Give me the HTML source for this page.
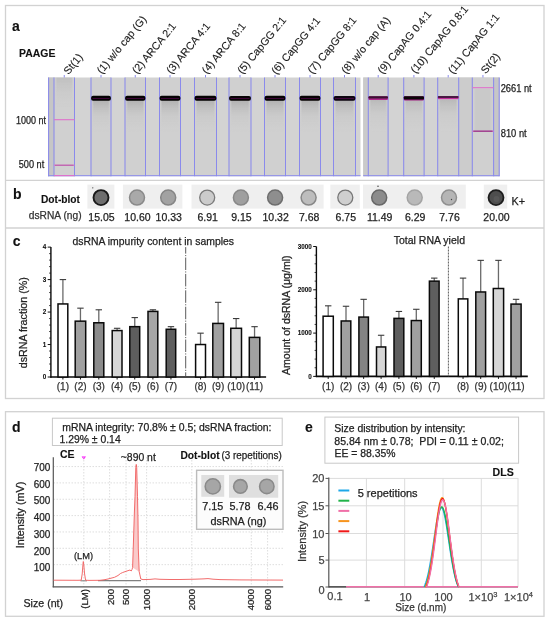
<!DOCTYPE html>
<html><head><meta charset="utf-8"><style>
html,body{margin:0;padding:0;background:#fff;overflow:hidden;width:550px;height:622px;}
svg{display:block;will-change:transform;}
text{font-family:"Liberation Sans",sans-serif;stroke-width:0.25px;}
text[font-weight="bold"]{stroke-width:0.1px;}
</style></head><body>
<svg width="550" height="622" viewBox="0 0 550 622" font-family="Liberation Sans, sans-serif">
<rect width="550" height="622" fill="#fff"/>
<rect x="5.5" y="5.5" width="538.5" height="393" fill="none" stroke="#d2d2d2" stroke-width="1.3"/>
<line x1="5" y1="180.3" x2="544" y2="180.3" stroke="#d2d2d2" stroke-width="1.3"/>
<line x1="5" y1="228" x2="544" y2="228" stroke="#d2d2d2" stroke-width="1.3"/>
<rect x="5.5" y="411.7" width="538.5" height="204.6" fill="none" stroke="#d2d2d2" stroke-width="1.3"/>
<text x="12" y="31.1" font-size="14" font-weight="bold" fill="#111" stroke="#111" text-anchor="start" >a</text>
<text x="19" y="57" font-size="10.4" font-weight="bold" fill="#111" stroke="#111" text-anchor="start" textLength="36.4" lengthAdjust="spacingAndGlyphs" >PAAGE</text>
<defs><linearGradient id="smear" x1="0" y1="0" x2="0" y2="1"><stop offset="0" stop-color="#a4a4a4" stop-opacity="0.7"/><stop offset="0.15" stop-color="#aaaaaa" stop-opacity="0.55"/><stop offset="0.5" stop-color="#b8b8b8" stop-opacity="0.22"/><stop offset="1" stop-color="#c8c8c8" stop-opacity="0"/></linearGradient><linearGradient id="smearh" x1="0" y1="0" x2="1" y2="0"><stop offset="0" stop-color="#fff" stop-opacity="0"/><stop offset="0.12" stop-color="#fff" stop-opacity="1"/><stop offset="0.88" stop-color="#fff" stop-opacity="1"/><stop offset="1" stop-color="#fff" stop-opacity="0"/></linearGradient><mask id="smask" maskContentUnits="objectBoundingBox"><rect width="1" height="1" fill="url(#smearh)"/></mask><linearGradient id="stsmear" x1="0" y1="0" x2="0" y2="1"><stop offset="0" stop-color="#b4b4b4" stop-opacity="0.55"/><stop offset="1" stop-color="#c8c8c8" stop-opacity="0"/></linearGradient></defs>
<rect x="48" y="77.5" width="312.5" height="98.69999999999999" fill="#d3d3d3"/>
<rect x="48" y="77.5" width="6" height="98.69999999999999" fill="#c6c6c6"/>
<rect x="363.2" y="77.5" width="136.3" height="98.69999999999999" fill="#d3d3d3"/>
<rect x="363.2" y="77.5" width="5.1" height="98.69999999999999" fill="#cacaca"/>
<rect x="493.6" y="77.5" width="5.9" height="98.69999999999999" fill="#c6c6c6"/>
<rect x="458.7" y="77.5" width="13.6" height="98.69999999999999" fill="#cccccc"/>
<rect x="54" y="77.5" width="20.5" height="98.69999999999999" fill="#d0d0d0"/>
<rect x="55" y="77.5" width="18.5" height="30" fill="url(#stsmear)" mask="url(#smask)"/>
<rect x="91" y="77.5" width="20" height="98.69999999999999" fill="#d0d0d0"/>
<rect x="91.6" y="100" width="18.8" height="32" fill="url(#smear)" mask="url(#smask)"/>
<rect x="125" y="77.5" width="20.5" height="98.69999999999999" fill="#d0d0d0"/>
<rect x="125.6" y="100" width="19.3" height="32" fill="url(#smear)" mask="url(#smask)"/>
<rect x="159.5" y="77.5" width="21.0" height="98.69999999999999" fill="#d0d0d0"/>
<rect x="160.1" y="100" width="19.8" height="32" fill="url(#smear)" mask="url(#smask)"/>
<rect x="194.5" y="77.5" width="22.0" height="98.69999999999999" fill="#d0d0d0"/>
<rect x="195.1" y="100" width="20.8" height="32" fill="url(#smear)" mask="url(#smask)"/>
<rect x="229" y="77.5" width="22" height="98.69999999999999" fill="#d0d0d0"/>
<rect x="229.6" y="100" width="20.8" height="32" fill="url(#smear)" mask="url(#smask)"/>
<rect x="264.5" y="77.5" width="21.0" height="98.69999999999999" fill="#d0d0d0"/>
<rect x="265.1" y="100" width="19.8" height="32" fill="url(#smear)" mask="url(#smask)"/>
<rect x="299.5" y="77.5" width="21.0" height="98.69999999999999" fill="#d0d0d0"/>
<rect x="300.1" y="100" width="19.8" height="32" fill="url(#smear)" mask="url(#smask)"/>
<rect x="333.5" y="77.5" width="22.0" height="98.69999999999999" fill="#d0d0d0"/>
<rect x="334.1" y="100" width="20.8" height="32" fill="url(#smear)" mask="url(#smask)"/>
<rect x="368.3" y="77.5" width="19.80000000000001" height="98.69999999999999" fill="#d0d0d0"/>
<rect x="368.90000000000003" y="100" width="18.600000000000012" height="32" fill="url(#smear)" mask="url(#smask)" opacity="0.7"/>
<rect x="403.7" y="77.5" width="20.400000000000034" height="98.69999999999999" fill="#d0d0d0"/>
<rect x="404.3" y="100" width="19.200000000000035" height="32" fill="url(#smear)" mask="url(#smask)" opacity="0.7"/>
<rect x="437.7" y="77.5" width="21.0" height="98.69999999999999" fill="#d0d0d0"/>
<rect x="438.3" y="100" width="19.8" height="32" fill="url(#smear)" mask="url(#smask)" opacity="0.7"/>
<rect x="472.3" y="77.5" width="21.30000000000001" height="98.69999999999999" fill="#d0d0d0"/>
<rect x="473.3" y="89" width="19.30000000000001" height="42" fill="#b8b8b8" opacity="0.25" mask="url(#smask)"/>
<line x1="48.6" y1="77.5" x2="48.6" y2="176.2" stroke="#8a8aec" stroke-width="1.05"/>
<line x1="54" y1="77.5" x2="54" y2="176.2" stroke="#8a8aec" stroke-width="1.05"/>
<line x1="74.5" y1="77.5" x2="74.5" y2="176.2" stroke="#8a8aec" stroke-width="1.05"/>
<line x1="91" y1="77.5" x2="91" y2="176.2" stroke="#8a8aec" stroke-width="1.05"/>
<line x1="111" y1="77.5" x2="111" y2="176.2" stroke="#8a8aec" stroke-width="1.05"/>
<line x1="125" y1="77.5" x2="125" y2="176.2" stroke="#8a8aec" stroke-width="1.05"/>
<line x1="145.5" y1="77.5" x2="145.5" y2="176.2" stroke="#8a8aec" stroke-width="1.05"/>
<line x1="159.5" y1="77.5" x2="159.5" y2="176.2" stroke="#8a8aec" stroke-width="1.05"/>
<line x1="180.5" y1="77.5" x2="180.5" y2="176.2" stroke="#8a8aec" stroke-width="1.05"/>
<line x1="194.5" y1="77.5" x2="194.5" y2="176.2" stroke="#8a8aec" stroke-width="1.05"/>
<line x1="216.5" y1="77.5" x2="216.5" y2="176.2" stroke="#8a8aec" stroke-width="1.05"/>
<line x1="229" y1="77.5" x2="229" y2="176.2" stroke="#8a8aec" stroke-width="1.05"/>
<line x1="251" y1="77.5" x2="251" y2="176.2" stroke="#8a8aec" stroke-width="1.05"/>
<line x1="264.5" y1="77.5" x2="264.5" y2="176.2" stroke="#8a8aec" stroke-width="1.05"/>
<line x1="285.5" y1="77.5" x2="285.5" y2="176.2" stroke="#8a8aec" stroke-width="1.05"/>
<line x1="299.5" y1="77.5" x2="299.5" y2="176.2" stroke="#8a8aec" stroke-width="1.05"/>
<line x1="320.5" y1="77.5" x2="320.5" y2="176.2" stroke="#8a8aec" stroke-width="1.05"/>
<line x1="333.5" y1="77.5" x2="333.5" y2="176.2" stroke="#8a8aec" stroke-width="1.05"/>
<line x1="355.5" y1="77.5" x2="355.5" y2="176.2" stroke="#8a8aec" stroke-width="1.05"/>
<line x1="368.3" y1="77.5" x2="368.3" y2="176.2" stroke="#8a8aec" stroke-width="1.05"/>
<line x1="388.1" y1="77.5" x2="388.1" y2="176.2" stroke="#8a8aec" stroke-width="1.05"/>
<line x1="403.7" y1="77.5" x2="403.7" y2="176.2" stroke="#8a8aec" stroke-width="1.05"/>
<line x1="424.1" y1="77.5" x2="424.1" y2="176.2" stroke="#8a8aec" stroke-width="1.05"/>
<line x1="437.7" y1="77.5" x2="437.7" y2="176.2" stroke="#8a8aec" stroke-width="1.05"/>
<line x1="458.7" y1="77.5" x2="458.7" y2="176.2" stroke="#8a8aec" stroke-width="1.05"/>
<line x1="472.3" y1="77.5" x2="472.3" y2="176.2" stroke="#8a8aec" stroke-width="1.05"/>
<line x1="493.6" y1="77.5" x2="493.6" y2="176.2" stroke="#8a8aec" stroke-width="1.05"/>
<line x1="499.2" y1="77.5" x2="499.2" y2="176.2" stroke="#8a8aec" stroke-width="1.05"/>
<line x1="48" y1="175.7" x2="360.5" y2="175.7" stroke="#8a8aec" stroke-width="1"/>
<line x1="363.2" y1="175.7" x2="499.5" y2="175.7" stroke="#8a8aec" stroke-width="1"/>
<line x1="64.25" y1="75" x2="64.25" y2="77.5" stroke="#8a8aec" stroke-width="1"/>
<line x1="101.0" y1="75" x2="101.0" y2="77.5" stroke="#8a8aec" stroke-width="1"/>
<line x1="135.25" y1="75" x2="135.25" y2="77.5" stroke="#8a8aec" stroke-width="1"/>
<line x1="170.0" y1="75" x2="170.0" y2="77.5" stroke="#8a8aec" stroke-width="1"/>
<line x1="205.5" y1="75" x2="205.5" y2="77.5" stroke="#8a8aec" stroke-width="1"/>
<line x1="240.0" y1="75" x2="240.0" y2="77.5" stroke="#8a8aec" stroke-width="1"/>
<line x1="275.0" y1="75" x2="275.0" y2="77.5" stroke="#8a8aec" stroke-width="1"/>
<line x1="310.0" y1="75" x2="310.0" y2="77.5" stroke="#8a8aec" stroke-width="1"/>
<line x1="344.5" y1="75" x2="344.5" y2="77.5" stroke="#8a8aec" stroke-width="1"/>
<line x1="378.20000000000005" y1="75" x2="378.20000000000005" y2="77.5" stroke="#8a8aec" stroke-width="1"/>
<line x1="413.9" y1="75" x2="413.9" y2="77.5" stroke="#8a8aec" stroke-width="1"/>
<line x1="448.2" y1="75" x2="448.2" y2="77.5" stroke="#8a8aec" stroke-width="1"/>
<line x1="482.95000000000005" y1="75" x2="482.95000000000005" y2="77.5" stroke="#8a8aec" stroke-width="1"/>
<rect x="91.1" y="95.8" width="19.8" height="5.0" rx="2.0" fill="#050303"/>
<line x1="92.5" y1="98.5" x2="109.5" y2="98.5" stroke="#900a80" stroke-width="0.5" opacity="0.8"/>
<rect x="125.1" y="95.8" width="20.3" height="5.0" rx="2.0" fill="#050303"/>
<line x1="126.5" y1="98.5" x2="144.0" y2="98.5" stroke="#900a80" stroke-width="0.5" opacity="0.8"/>
<rect x="159.6" y="95.8" width="20.8" height="5.0" rx="2.0" fill="#050303"/>
<line x1="161.0" y1="98.5" x2="179.0" y2="98.5" stroke="#900a80" stroke-width="0.5" opacity="0.8"/>
<rect x="194.6" y="95.8" width="21.8" height="5.0" rx="2.0" fill="#050303"/>
<line x1="196.0" y1="98.5" x2="215.0" y2="98.5" stroke="#900a80" stroke-width="0.5" opacity="0.8"/>
<rect x="229.1" y="95.89999999999999" width="21.8" height="4.8" rx="1.92" fill="#080404"/>
<line x1="230.5" y1="98.5" x2="249.5" y2="98.5" stroke="#900a80" stroke-width="0.5" opacity="0.8"/>
<rect x="264.6" y="95.8" width="20.8" height="5.0" rx="2.0" fill="#050303"/>
<line x1="266.0" y1="98.5" x2="284.0" y2="98.5" stroke="#900a80" stroke-width="0.5" opacity="0.8"/>
<rect x="299.6" y="95.85" width="20.8" height="4.9" rx="1.9600000000000002" fill="#080404"/>
<line x1="301.0" y1="98.5" x2="319.0" y2="98.5" stroke="#900a80" stroke-width="0.5" opacity="0.8"/>
<rect x="333.6" y="95.89999999999999" width="21.8" height="4.8" rx="1.92" fill="#0e0610"/>
<line x1="335.0" y1="98.5" x2="354.0" y2="98.5" stroke="#900a80" stroke-width="0.5" opacity="0.8"/>
<rect x="368.40000000000003" y="96.3" width="19.600000000000012" height="3.6000000000000085" rx="1.2" fill="#b02a8c"/>
<rect x="368.40000000000003" y="96.3" width="19.600000000000012" height="2.3000000000000056" rx="1" fill="#3a1232"/>
<rect x="403.8" y="96.3" width="20.200000000000035" height="4.200000000000003" rx="1.2" fill="#a01e80"/>
<rect x="403.8" y="96.3" width="20.200000000000035" height="3.1000000000000028" rx="1" fill="#0c0508"/>
<rect x="437.8" y="95.9" width="20.8" height="3.299999999999997" rx="1.2" fill="#c0309a"/>
<rect x="437.8" y="95.9" width="20.8" height="1.9999999999999942" rx="1" fill="#4a1a44"/>
<line x1="54" y1="119.7" x2="74.5" y2="119.7" stroke="#e070cc" stroke-width="1.1"/>
<line x1="54" y1="165.2" x2="74.5" y2="165.2" stroke="#e070cc" stroke-width="1.1"/>
<line x1="54" y1="175.6" x2="74.5" y2="175.6" stroke="#e070cc" stroke-width="1.1"/>
<line x1="472.3" y1="87.7" x2="493.6" y2="87.7" stroke="#e070cc" stroke-width="1.1"/>
<line x1="472.3" y1="131.2" x2="493.6" y2="131.2" stroke="#e070cc" stroke-width="1.1"/>
<line x1="473.3" y1="131.2" x2="492.6" y2="131.2" stroke="#802070" stroke-width="1.4" opacity="0.7"/>
<line x1="55" y1="165.2" x2="73.5" y2="165.2" stroke="#903080" stroke-width="1" opacity="0.5"/>
<text x="16" y="123.9" font-size="10" fill="#222" stroke="#222" text-anchor="start" textLength="30" lengthAdjust="spacingAndGlyphs" >1000 nt</text>
<text x="18.7" y="167.5" font-size="10" fill="#222" stroke="#222" text-anchor="start" textLength="25.5" lengthAdjust="spacingAndGlyphs" >500 nt</text>
<text x="500.7" y="91.7" font-size="10" fill="#222" stroke="#222" text-anchor="start" textLength="31" lengthAdjust="spacingAndGlyphs" >2661 nt</text>
<text x="500.7" y="137.3" font-size="10" fill="#222" stroke="#222" text-anchor="start" textLength="26" lengthAdjust="spacingAndGlyphs" >810 nt</text>
<text x="0" y="0" font-size="10.7" fill="#1a1a1a" stroke="#1a1a1a" style="stroke-width:0.12px" transform="translate(68.55,75.20) rotate(-50.6)">St(1)</text>
<text x="0" y="0" font-size="10.7" fill="#1a1a1a" stroke="#1a1a1a" style="stroke-width:0.12px" transform="translate(101.80,74.60) rotate(-50.6)">(1) w/o cap (G)</text>
<text x="0" y="0" font-size="10.7" fill="#1a1a1a" stroke="#1a1a1a" style="stroke-width:0.12px" transform="translate(137.05,74.60) rotate(-50.6)">(2) ARCA 2:1</text>
<text x="0" y="0" font-size="10.7" fill="#1a1a1a" stroke="#1a1a1a" style="stroke-width:0.12px" transform="translate(171.20,74.60) rotate(-50.6)">(3) ARCA 4:1</text>
<text x="0" y="0" font-size="10.7" fill="#1a1a1a" stroke="#1a1a1a" style="stroke-width:0.12px" transform="translate(206.70,74.60) rotate(-50.6)">(4) ARCA 8:1</text>
<text x="0" y="0" font-size="10.7" fill="#1a1a1a" stroke="#1a1a1a" style="stroke-width:0.12px" transform="translate(242.30,74.60) rotate(-50.6)">(5) CapGG 2:1</text>
<text x="0" y="0" font-size="10.7" fill="#1a1a1a" stroke="#1a1a1a" style="stroke-width:0.12px" transform="translate(276.30,75.10) rotate(-50.6)">(6) CapGG 4:1</text>
<text x="0" y="0" font-size="10.7" fill="#1a1a1a" stroke="#1a1a1a" style="stroke-width:0.12px" transform="translate(312.60,74.60) rotate(-50.6)">(7) CapGG 8:1</text>
<text x="0" y="0" font-size="10.7" fill="#1a1a1a" stroke="#1a1a1a" style="stroke-width:0.12px" transform="translate(346.30,74.60) rotate(-50.6)">(8) w/o cap (A)</text>
<text x="0" y="0" font-size="10.7" fill="#1a1a1a" stroke="#1a1a1a" style="stroke-width:0.12px" transform="translate(382.60,74.60) rotate(-50.6)">(9) CapAG 0.4:1</text>
<text x="0" y="0" font-size="10.7" fill="#1a1a1a" stroke="#1a1a1a" style="stroke-width:0.12px" transform="translate(415.60,74.10) rotate(-50.6)">(10) CapAG 0.8:1</text>
<text x="0" y="0" font-size="10.7" fill="#1a1a1a" stroke="#1a1a1a" style="stroke-width:0.12px" transform="translate(453.10,74.60) rotate(-50.6)">(11) CapAG 1:1</text>
<text x="0" y="0" font-size="10.7" fill="#1a1a1a" stroke="#1a1a1a" style="stroke-width:0.12px" transform="translate(485.85,74.60) rotate(-50.6)">St(2)</text>
<text x="13" y="198.5" font-size="14" font-weight="bold" fill="#111" stroke="#111" text-anchor="start" >b</text>
<text x="40.9" y="202.5" font-size="10.2" font-weight="bold" fill="#111" stroke="#111" text-anchor="start" textLength="39.1" lengthAdjust="spacingAndGlyphs" >Dot-blot</text>
<text x="28.8" y="218.5" font-size="10" fill="#333" stroke="#333" text-anchor="start" textLength="52.8" lengthAdjust="spacingAndGlyphs" >dsRNA (ng)</text>
<rect x="87.4" y="184.6" width="27.0" height="24" fill="#efefef"/>
<rect x="122.9" y="184.6" width="59.5" height="24" fill="#efefef"/>
<rect x="191.5" y="184.6" width="132.10000000000002" height="24" fill="#efefef"/>
<rect x="330.3" y="184.6" width="29.5" height="24" fill="#efefef"/>
<rect x="363" y="184.6" width="102.80000000000001" height="24" fill="#efefef"/>
<rect x="483.8" y="184.6" width="23.399999999999977" height="24" fill="#efefef"/>
<circle cx="101" cy="197.6" r="7.5" fill="#6e6e6e" stroke="#1a1a1a" stroke-width="1.9"/>
<text x="101.5" y="220.8" font-size="10.5" fill="#222" stroke="#222" text-anchor="middle" >15.05</text>
<circle cx="137" cy="197.6" r="7.5" fill="#a9a9a9" stroke="#8a8a8a" stroke-width="1.5"/>
<text x="137.5" y="220.8" font-size="10.5" fill="#222" stroke="#222" text-anchor="middle" >10.60</text>
<circle cx="168.2" cy="197.6" r="7.5" fill="#a2a2a2" stroke="#858585" stroke-width="1.5"/>
<text x="168.7" y="220.8" font-size="10.5" fill="#222" stroke="#222" text-anchor="middle" >10.33</text>
<circle cx="207.2" cy="197.6" r="7.5" fill="#cbcbcb" stroke="#7a7a7a" stroke-width="1.3"/>
<text x="207.7" y="220.8" font-size="10.5" fill="#222" stroke="#222" text-anchor="middle" >6.91</text>
<circle cx="240.9" cy="197.6" r="7.5" fill="#9f9f9f" stroke="#888888" stroke-width="1.5"/>
<text x="241.4" y="220.8" font-size="10.5" fill="#222" stroke="#222" text-anchor="middle" >9.15</text>
<circle cx="275.1" cy="197.6" r="7.5" fill="#8e8e8e" stroke="#6e6e6e" stroke-width="1.5"/>
<text x="275.6" y="220.8" font-size="10.5" fill="#222" stroke="#222" text-anchor="middle" >10.32</text>
<circle cx="308.6" cy="197.6" r="7.5" fill="#bdbdbd" stroke="#888888" stroke-width="1.5"/>
<text x="309.1" y="220.8" font-size="10.5" fill="#222" stroke="#222" text-anchor="middle" >7.68</text>
<circle cx="345.3" cy="197.6" r="7.5" fill="#cfcfcf" stroke="#777777" stroke-width="1.3"/>
<text x="345.8" y="220.8" font-size="10.5" fill="#222" stroke="#222" text-anchor="middle" >6.75</text>
<circle cx="379.2" cy="197.6" r="7.5" fill="#8c8c8c" stroke="#686868" stroke-width="1.5"/>
<text x="379.7" y="220.8" font-size="10.5" fill="#222" stroke="#222" text-anchor="middle" >11.49</text>
<circle cx="414.7" cy="197.6" r="7.5" fill="#b9b9b9" stroke="#a4a4a4" stroke-width="1.5"/>
<text x="415.2" y="220.8" font-size="10.5" fill="#222" stroke="#222" text-anchor="middle" >6.29</text>
<circle cx="449" cy="197.6" r="7.5" fill="#b5b5b5" stroke="#909090" stroke-width="1.5"/>
<text x="449.5" y="220.8" font-size="10.5" fill="#222" stroke="#222" text-anchor="middle" >7.76</text>
<circle cx="496" cy="197.6" r="7.5" fill="#4e4e4e" stroke="#1e1e1e" stroke-width="1.8"/>
<text x="496.5" y="220.8" font-size="10.5" fill="#222" stroke="#222" text-anchor="middle" >20.00</text>
<circle cx="92.8" cy="187.8" r="0.6" fill="#333"/>
<circle cx="378" cy="186.3" r="0.7" fill="#333"/>
<circle cx="451.5" cy="199.5" r="0.7" fill="#444"/>
<circle cx="496.5" cy="199" r="3" fill="#5c5c5c" opacity="0.7"/>
<text x="511.6" y="204.6" font-size="10.8" fill="#222" stroke="#222" text-anchor="start" >K+</text>
<text x="12.8" y="246.4" font-size="14" font-weight="bold" fill="#111" stroke="#111" text-anchor="start" >c</text>
<line x1="50.9" y1="247.12" x2="50.9" y2="377.7" stroke="#0a0a0a" stroke-width="1.4"/>
<line x1="50.3" y1="377" x2="266.1" y2="377" stroke="#0a0a0a" stroke-width="1.6"/>
<line x1="47.699999999999996" y1="377.0" x2="50.9" y2="377.0" stroke="#111" stroke-width="1"/>
<text x="46.3" y="379.3" font-size="6.3" font-weight="bold" fill="#111" stroke="#111" text-anchor="end" >0</text>
<line x1="49.1" y1="370.506" x2="50.9" y2="370.506" stroke="#111" stroke-width="0.8"/>
<line x1="49.1" y1="364.012" x2="50.9" y2="364.012" stroke="#111" stroke-width="0.8"/>
<line x1="49.1" y1="357.51800000000003" x2="50.9" y2="357.51800000000003" stroke="#111" stroke-width="0.8"/>
<line x1="49.1" y1="351.024" x2="50.9" y2="351.024" stroke="#111" stroke-width="0.8"/>
<line x1="47.699999999999996" y1="344.53" x2="50.9" y2="344.53" stroke="#111" stroke-width="1"/>
<text x="46.3" y="346.83" font-size="6.3" font-weight="bold" fill="#111" stroke="#111" text-anchor="end" >1</text>
<line x1="49.1" y1="338.03599999999994" x2="50.9" y2="338.03599999999994" stroke="#111" stroke-width="0.8"/>
<line x1="49.1" y1="331.542" x2="50.9" y2="331.542" stroke="#111" stroke-width="0.8"/>
<line x1="49.1" y1="325.048" x2="50.9" y2="325.048" stroke="#111" stroke-width="0.8"/>
<line x1="49.1" y1="318.554" x2="50.9" y2="318.554" stroke="#111" stroke-width="0.8"/>
<line x1="47.699999999999996" y1="312.06" x2="50.9" y2="312.06" stroke="#111" stroke-width="1"/>
<text x="46.3" y="314.36" font-size="6.3" font-weight="bold" fill="#111" stroke="#111" text-anchor="end" >2</text>
<line x1="49.1" y1="305.56600000000003" x2="50.9" y2="305.56600000000003" stroke="#111" stroke-width="0.8"/>
<line x1="49.1" y1="299.072" x2="50.9" y2="299.072" stroke="#111" stroke-width="0.8"/>
<line x1="49.1" y1="292.578" x2="50.9" y2="292.578" stroke="#111" stroke-width="0.8"/>
<line x1="49.1" y1="286.084" x2="50.9" y2="286.084" stroke="#111" stroke-width="0.8"/>
<line x1="47.699999999999996" y1="279.59000000000003" x2="50.9" y2="279.59000000000003" stroke="#111" stroke-width="1"/>
<text x="46.3" y="281.89000000000004" font-size="6.3" font-weight="bold" fill="#111" stroke="#111" text-anchor="end" >3</text>
<line x1="49.1" y1="273.096" x2="50.9" y2="273.096" stroke="#111" stroke-width="0.8"/>
<line x1="49.1" y1="266.60200000000003" x2="50.9" y2="266.60200000000003" stroke="#111" stroke-width="0.8"/>
<line x1="49.1" y1="260.10800000000006" x2="50.9" y2="260.10800000000006" stroke="#111" stroke-width="0.8"/>
<line x1="49.1" y1="253.61400000000003" x2="50.9" y2="253.61400000000003" stroke="#111" stroke-width="0.8"/>
<line x1="47.699999999999996" y1="247.12" x2="50.9" y2="247.12" stroke="#111" stroke-width="1"/>
<text x="46.3" y="249.42000000000002" font-size="6.3" font-weight="bold" fill="#111" stroke="#111" text-anchor="end" >4</text>
<line x1="62.9" y1="279.59000000000003" x2="62.9" y2="303.9425" stroke="#6a6a6a" stroke-width="1.3"/>
<line x1="59.699999999999996" y1="279.59000000000003" x2="66.1" y2="279.59000000000003" stroke="#3a3a3a" stroke-width="1.1"/>
<rect x="58.0" y="303.9425" width="9.800000000000002" height="73.0575" fill="#ffffff" stroke="#0a0a0a" stroke-width="1.5"/>
<line x1="62.9" y1="377" x2="62.9" y2="379.5" stroke="#111" stroke-width="1"/>
<text x="62.9" y="390.2" font-size="10" fill="#333" stroke="#333" text-anchor="middle" >(1)</text>
<line x1="80.45" y1="308.1636" x2="80.45" y2="321.15160000000003" stroke="#6a6a6a" stroke-width="1.3"/>
<line x1="77.25" y1="308.1636" x2="83.65" y2="308.1636" stroke="#3a3a3a" stroke-width="1.1"/>
<rect x="75.2" y="321.15160000000003" width="10.500000000000005" height="55.84839999999997" fill="#a0a0a0" stroke="#0a0a0a" stroke-width="1.5"/>
<line x1="80.45" y1="377" x2="80.45" y2="379.5" stroke="#111" stroke-width="1"/>
<text x="80.45" y="390.2" font-size="10" fill="#333" stroke="#333" text-anchor="middle" >(2)</text>
<line x1="98.8" y1="309.7871" x2="98.8" y2="322.7751" stroke="#6a6a6a" stroke-width="1.3"/>
<line x1="95.6" y1="309.7871" x2="102.0" y2="309.7871" stroke="#3a3a3a" stroke-width="1.1"/>
<rect x="93.8" y="322.7751" width="10.000000000000005" height="54.22489999999999" fill="#8c8c8c" stroke="#0a0a0a" stroke-width="1.5"/>
<line x1="98.8" y1="377" x2="98.8" y2="379.5" stroke="#111" stroke-width="1"/>
<text x="98.8" y="390.2" font-size="10" fill="#333" stroke="#333" text-anchor="middle" >(3)</text>
<line x1="117.1" y1="328.295" x2="117.1" y2="330.5679" stroke="#6a6a6a" stroke-width="1.3"/>
<line x1="113.89999999999999" y1="328.295" x2="120.3" y2="328.295" stroke="#3a3a3a" stroke-width="1.1"/>
<rect x="112.2" y="330.5679" width="9.800000000000002" height="46.43209999999999" fill="#d6d6d6" stroke="#0a0a0a" stroke-width="1.5"/>
<line x1="117.1" y1="377" x2="117.1" y2="379.5" stroke="#111" stroke-width="1"/>
<text x="117.1" y="390.2" font-size="10" fill="#333" stroke="#333" text-anchor="middle" >(4)</text>
<line x1="134.75" y1="317.5799" x2="134.75" y2="326.6715" stroke="#6a6a6a" stroke-width="1.3"/>
<line x1="131.55" y1="317.5799" x2="137.95" y2="317.5799" stroke="#3a3a3a" stroke-width="1.1"/>
<rect x="129.79999999999998" y="326.6715" width="9.900000000000011" height="50.32850000000002" fill="#5e5e5e" stroke="#0a0a0a" stroke-width="1.5"/>
<line x1="134.75" y1="377" x2="134.75" y2="379.5" stroke="#111" stroke-width="1"/>
<text x="134.75" y="390.2" font-size="10" fill="#333" stroke="#333" text-anchor="middle" >(5)</text>
<line x1="152.9" y1="309.7871" x2="152.9" y2="311.4106" stroke="#6a6a6a" stroke-width="1.3"/>
<line x1="149.70000000000002" y1="309.7871" x2="156.1" y2="309.7871" stroke="#3a3a3a" stroke-width="1.1"/>
<rect x="148.0" y="311.4106" width="9.799999999999988" height="65.58940000000001" fill="#a6a6a6" stroke="#0a0a0a" stroke-width="1.5"/>
<line x1="152.9" y1="377" x2="152.9" y2="379.5" stroke="#111" stroke-width="1"/>
<text x="152.9" y="390.2" font-size="10" fill="#333" stroke="#333" text-anchor="middle" >(6)</text>
<line x1="170.95" y1="326.6715" x2="170.95" y2="329.2691" stroke="#6a6a6a" stroke-width="1.3"/>
<line x1="167.75" y1="326.6715" x2="174.14999999999998" y2="326.6715" stroke="#3a3a3a" stroke-width="1.1"/>
<rect x="166.2" y="329.2691" width="9.500000000000005" height="47.73090000000002" fill="#5e5e5e" stroke="#0a0a0a" stroke-width="1.5"/>
<line x1="170.95" y1="377" x2="170.95" y2="379.5" stroke="#111" stroke-width="1"/>
<text x="170.95" y="390.2" font-size="10" fill="#333" stroke="#333" text-anchor="middle" >(7)</text>
<line x1="200.55" y1="333.1655" x2="200.55" y2="344.53" stroke="#6a6a6a" stroke-width="1.3"/>
<line x1="197.35000000000002" y1="333.1655" x2="203.75" y2="333.1655" stroke="#3a3a3a" stroke-width="1.1"/>
<rect x="195.6" y="344.53" width="9.899999999999983" height="32.47000000000003" fill="#ffffff" stroke="#0a0a0a" stroke-width="1.5"/>
<line x1="200.55" y1="377" x2="200.55" y2="379.5" stroke="#111" stroke-width="1"/>
<text x="200.55" y="390.2" font-size="10" fill="#333" stroke="#333" text-anchor="middle" >(8)</text>
<line x1="218.14999999999998" y1="302.319" x2="218.14999999999998" y2="323.4245" stroke="#6a6a6a" stroke-width="1.3"/>
<line x1="214.95" y1="302.319" x2="221.34999999999997" y2="302.319" stroke="#3a3a3a" stroke-width="1.1"/>
<rect x="212.79999999999998" y="323.4245" width="10.699999999999994" height="53.57549999999998" fill="#a0a0a0" stroke="#0a0a0a" stroke-width="1.5"/>
<line x1="218.14999999999998" y1="377" x2="218.14999999999998" y2="379.5" stroke="#111" stroke-width="1"/>
<text x="218.14999999999998" y="390.2" font-size="10" fill="#333" stroke="#333" text-anchor="middle" >(9)</text>
<line x1="236.14999999999998" y1="318.554" x2="236.14999999999998" y2="328.295" stroke="#6a6a6a" stroke-width="1.3"/>
<line x1="232.95" y1="318.554" x2="239.34999999999997" y2="318.554" stroke="#3a3a3a" stroke-width="1.1"/>
<rect x="230.79999999999998" y="328.295" width="10.699999999999994" height="48.704999999999984" fill="#d6d6d6" stroke="#0a0a0a" stroke-width="1.5"/>
<line x1="236.14999999999998" y1="377" x2="236.14999999999998" y2="379.5" stroke="#111" stroke-width="1"/>
<text x="236.14999999999998" y="390.2" font-size="10" fill="#333" stroke="#333" text-anchor="middle" >(10)</text>
<line x1="254.55" y1="326.6715" x2="254.55" y2="337.3866" stroke="#6a6a6a" stroke-width="1.3"/>
<line x1="251.35000000000002" y1="326.6715" x2="257.75" y2="326.6715" stroke="#3a3a3a" stroke-width="1.1"/>
<rect x="249.29999999999998" y="337.3866" width="10.500000000000005" height="39.61340000000001" fill="#a0a0a0" stroke="#0a0a0a" stroke-width="1.5"/>
<line x1="254.55" y1="377" x2="254.55" y2="379.5" stroke="#111" stroke-width="1"/>
<text x="254.55" y="390.2" font-size="10" fill="#333" stroke="#333" text-anchor="middle" >(11)</text>
<line x1="185.7" y1="247.12" x2="185.7" y2="377" stroke="#4a4a4a" stroke-width="0.9" stroke-dasharray="12.5,1.4,1.1,1.4" stroke-dashoffset="6"/>
<text x="72.5" y="245" font-size="10.8" fill="#222" stroke="#222" text-anchor="start" textLength="161.5" lengthAdjust="spacingAndGlyphs" >dsRNA impurity content in samples</text>
<text x="0" y="0" font-size="10.5" fill="#222" stroke="#222" transform="translate(26.6,368.2) rotate(-90)" textLength="91" lengthAdjust="spacingAndGlyphs">dsRNA fraction (%)</text>
<line x1="316.4" y1="246.5" x2="316.4" y2="377.09999999999997" stroke="#0a0a0a" stroke-width="1.4"/>
<line x1="315.79999999999995" y1="376.4" x2="527.8" y2="376.4" stroke="#0a0a0a" stroke-width="1.6"/>
<line x1="313.2" y1="376.4" x2="316.4" y2="376.4" stroke="#111" stroke-width="1"/>
<text x="311.79999999999995" y="378.7" font-size="6.3" font-weight="bold" fill="#111" stroke="#111" text-anchor="end" >0</text>
<line x1="314.59999999999997" y1="367.73999999999995" x2="316.4" y2="367.73999999999995" stroke="#111" stroke-width="0.8"/>
<line x1="314.59999999999997" y1="359.08" x2="316.4" y2="359.08" stroke="#111" stroke-width="0.8"/>
<line x1="314.59999999999997" y1="350.41999999999996" x2="316.4" y2="350.41999999999996" stroke="#111" stroke-width="0.8"/>
<line x1="314.59999999999997" y1="341.76" x2="316.4" y2="341.76" stroke="#111" stroke-width="0.8"/>
<line x1="313.2" y1="333.09999999999997" x2="316.4" y2="333.09999999999997" stroke="#111" stroke-width="1"/>
<text x="311.79999999999995" y="335.4" font-size="6.3" font-weight="bold" fill="#111" stroke="#111" text-anchor="end" >1000</text>
<line x1="314.59999999999997" y1="324.43999999999994" x2="316.4" y2="324.43999999999994" stroke="#111" stroke-width="0.8"/>
<line x1="314.59999999999997" y1="315.78" x2="316.4" y2="315.78" stroke="#111" stroke-width="0.8"/>
<line x1="314.59999999999997" y1="307.11999999999995" x2="316.4" y2="307.11999999999995" stroke="#111" stroke-width="0.8"/>
<line x1="314.59999999999997" y1="298.46" x2="316.4" y2="298.46" stroke="#111" stroke-width="0.8"/>
<line x1="313.2" y1="289.79999999999995" x2="316.4" y2="289.79999999999995" stroke="#111" stroke-width="1"/>
<text x="311.79999999999995" y="292.09999999999997" font-size="6.3" font-weight="bold" fill="#111" stroke="#111" text-anchor="end" >2000</text>
<line x1="314.59999999999997" y1="281.13999999999993" x2="316.4" y2="281.13999999999993" stroke="#111" stroke-width="0.8"/>
<line x1="314.59999999999997" y1="272.47999999999996" x2="316.4" y2="272.47999999999996" stroke="#111" stroke-width="0.8"/>
<line x1="314.59999999999997" y1="263.81999999999994" x2="316.4" y2="263.81999999999994" stroke="#111" stroke-width="0.8"/>
<line x1="314.59999999999997" y1="255.15999999999997" x2="316.4" y2="255.15999999999997" stroke="#111" stroke-width="0.8"/>
<line x1="313.2" y1="246.5" x2="316.4" y2="246.5" stroke="#111" stroke-width="1"/>
<text x="311.79999999999995" y="248.8" font-size="6.3" font-weight="bold" fill="#111" stroke="#111" text-anchor="end" >3000</text>
<line x1="448.4" y1="246.5" x2="448.4" y2="376.4" stroke="#4a4a4a" stroke-width="0.9" stroke-dasharray="2,1" stroke-dashoffset="0"/>
<line x1="328.2" y1="305.82099999999997" x2="328.2" y2="316.21299999999997" stroke="#6a6a6a" stroke-width="1.3"/>
<line x1="325.0" y1="305.82099999999997" x2="331.4" y2="305.82099999999997" stroke="#3a3a3a" stroke-width="1.1"/>
<rect x="323.09999999999997" y="316.21299999999997" width="10.200000000000022" height="60.18700000000001" fill="#ffffff" stroke="#0a0a0a" stroke-width="1.5"/>
<line x1="328.2" y1="376.4" x2="328.2" y2="378.9" stroke="#111" stroke-width="1"/>
<text x="328.2" y="390.2" font-size="10" fill="#333" stroke="#333" text-anchor="middle" >(1)</text>
<line x1="346.0" y1="306.25399999999996" x2="346.0" y2="320.976" stroke="#6a6a6a" stroke-width="1.3"/>
<line x1="342.8" y1="306.25399999999996" x2="349.2" y2="306.25399999999996" stroke="#3a3a3a" stroke-width="1.1"/>
<rect x="341.2" y="320.976" width="9.6" height="55.42399999999998" fill="#a0a0a0" stroke="#0a0a0a" stroke-width="1.5"/>
<line x1="346.0" y1="376.4" x2="346.0" y2="378.9" stroke="#111" stroke-width="1"/>
<text x="346.0" y="390.2" font-size="10" fill="#333" stroke="#333" text-anchor="middle" >(2)</text>
<line x1="363.65" y1="299.32599999999996" x2="363.65" y2="317.079" stroke="#6a6a6a" stroke-width="1.3"/>
<line x1="360.45" y1="299.32599999999996" x2="366.84999999999997" y2="299.32599999999996" stroke="#3a3a3a" stroke-width="1.1"/>
<rect x="358.9" y="317.079" width="9.500000000000034" height="59.32099999999997" fill="#838383" stroke="#0a0a0a" stroke-width="1.5"/>
<line x1="363.65" y1="376.4" x2="363.65" y2="378.9" stroke="#111" stroke-width="1"/>
<text x="363.65" y="390.2" font-size="10" fill="#333" stroke="#333" text-anchor="middle" >(3)</text>
<line x1="381.1" y1="335.265" x2="381.1" y2="346.95599999999996" stroke="#6a6a6a" stroke-width="1.3"/>
<line x1="377.90000000000003" y1="335.265" x2="384.3" y2="335.265" stroke="#3a3a3a" stroke-width="1.1"/>
<rect x="376.5" y="346.95599999999996" width="9.199999999999966" height="29.444000000000017" fill="#d6d6d6" stroke="#0a0a0a" stroke-width="1.5"/>
<line x1="381.1" y1="376.4" x2="381.1" y2="378.9" stroke="#111" stroke-width="1"/>
<text x="381.1" y="390.2" font-size="10" fill="#333" stroke="#333" text-anchor="middle" >(4)</text>
<line x1="398.9" y1="311.45" x2="398.9" y2="318.378" stroke="#6a6a6a" stroke-width="1.3"/>
<line x1="395.7" y1="311.45" x2="402.09999999999997" y2="311.45" stroke="#3a3a3a" stroke-width="1.1"/>
<rect x="394.0" y="318.378" width="9.799999999999988" height="58.02199999999999" fill="#5e5e5e" stroke="#0a0a0a" stroke-width="1.5"/>
<line x1="398.9" y1="376.4" x2="398.9" y2="378.9" stroke="#111" stroke-width="1"/>
<text x="398.9" y="390.2" font-size="10" fill="#333" stroke="#333" text-anchor="middle" >(5)</text>
<line x1="416.3" y1="309.28499999999997" x2="416.3" y2="320.543" stroke="#6a6a6a" stroke-width="1.3"/>
<line x1="413.1" y1="309.28499999999997" x2="419.5" y2="309.28499999999997" stroke="#3a3a3a" stroke-width="1.1"/>
<rect x="411.3" y="320.543" width="9.999999999999977" height="55.85699999999997" fill="#a0a0a0" stroke="#0a0a0a" stroke-width="1.5"/>
<line x1="416.3" y1="376.4" x2="416.3" y2="378.9" stroke="#111" stroke-width="1"/>
<text x="416.3" y="390.2" font-size="10" fill="#333" stroke="#333" text-anchor="middle" >(6)</text>
<line x1="434.25" y1="278.109" x2="434.25" y2="281.14" stroke="#6a6a6a" stroke-width="1.3"/>
<line x1="431.05" y1="278.109" x2="437.45" y2="278.109" stroke="#3a3a3a" stroke-width="1.1"/>
<rect x="429.4" y="281.14" width="9.700000000000022" height="95.25999999999999" fill="#5e5e5e" stroke="#0a0a0a" stroke-width="1.5"/>
<line x1="434.25" y1="376.4" x2="434.25" y2="378.9" stroke="#111" stroke-width="1"/>
<text x="434.25" y="390.2" font-size="10" fill="#333" stroke="#333" text-anchor="middle" >(7)</text>
<line x1="463.05" y1="278.109" x2="463.05" y2="298.893" stroke="#6a6a6a" stroke-width="1.3"/>
<line x1="459.85" y1="278.109" x2="466.25" y2="278.109" stroke="#3a3a3a" stroke-width="1.1"/>
<rect x="458.3" y="298.893" width="9.499999999999977" height="77.507" fill="#ffffff" stroke="#0a0a0a" stroke-width="1.5"/>
<line x1="463.05" y1="376.4" x2="463.05" y2="378.9" stroke="#111" stroke-width="1"/>
<text x="463.05" y="390.2" font-size="10" fill="#333" stroke="#333" text-anchor="middle" >(8)</text>
<line x1="480.70000000000005" y1="260.356" x2="480.70000000000005" y2="291.965" stroke="#6a6a6a" stroke-width="1.3"/>
<line x1="477.50000000000006" y1="260.356" x2="483.90000000000003" y2="260.356" stroke="#3a3a3a" stroke-width="1.1"/>
<rect x="475.8" y="291.965" width="9.799999999999988" height="84.435" fill="#a0a0a0" stroke="#0a0a0a" stroke-width="1.5"/>
<line x1="480.70000000000005" y1="376.4" x2="480.70000000000005" y2="378.9" stroke="#111" stroke-width="1"/>
<text x="480.70000000000005" y="390.2" font-size="10" fill="#333" stroke="#333" text-anchor="middle" >(9)</text>
<line x1="498.45000000000005" y1="260.356" x2="498.45000000000005" y2="288.501" stroke="#6a6a6a" stroke-width="1.3"/>
<line x1="495.25000000000006" y1="260.356" x2="501.65000000000003" y2="260.356" stroke="#3a3a3a" stroke-width="1.1"/>
<rect x="493.3" y="288.501" width="10.299999999999988" height="87.899" fill="#d6d6d6" stroke="#0a0a0a" stroke-width="1.5"/>
<line x1="498.45000000000005" y1="376.4" x2="498.45000000000005" y2="378.9" stroke="#111" stroke-width="1"/>
<text x="498.45000000000005" y="390.2" font-size="10" fill="#333" stroke="#333" text-anchor="middle" >(10)</text>
<line x1="516.05" y1="299.32599999999996" x2="516.05" y2="304.08899999999994" stroke="#6a6a6a" stroke-width="1.3"/>
<line x1="512.8499999999999" y1="299.32599999999996" x2="519.25" y2="299.32599999999996" stroke="#3a3a3a" stroke-width="1.1"/>
<rect x="511.0" y="304.08899999999994" width="10.099999999999943" height="72.31100000000004" fill="#a0a0a0" stroke="#0a0a0a" stroke-width="1.5"/>
<line x1="516.05" y1="376.4" x2="516.05" y2="378.9" stroke="#111" stroke-width="1"/>
<text x="516.05" y="390.2" font-size="10" fill="#333" stroke="#333" text-anchor="middle" >(11)</text>
<text x="393.7" y="244.3" font-size="10.8" fill="#222" stroke="#222" text-anchor="start" textLength="71.3" lengthAdjust="spacingAndGlyphs" >Total RNA yield</text>
<text x="0" y="0" font-size="10.5" fill="#222" stroke="#222" transform="translate(289.6,375) rotate(-90)" textLength="119.5" lengthAdjust="spacingAndGlyphs">Amount of dsRNA (μg/ml)</text>
<text x="12" y="432.2" font-size="14" font-weight="bold" fill="#111" stroke="#111" text-anchor="start" >d</text>
<rect x="52.4" y="418.2" width="229.8" height="27.3" fill="#fff" stroke="#c8c8c8" stroke-width="1"/>
<text x="62.2" y="430.8" font-size="10.4" fill="#222" stroke="#222" text-anchor="start" textLength="209.3" lengthAdjust="spacingAndGlyphs" >mRNA integrity: 70.8% ± 0.5; dsRNA fraction:</text>
<text x="59.5" y="442.5" font-size="10.4" fill="#222" stroke="#222" text-anchor="start" >1.29% ± 0.14</text>
<text x="60" y="457.5" font-size="10.5" font-weight="bold" fill="#111" stroke="#111" text-anchor="start" >CE</text>
<path d="M81.6,456.4 L86,456.4 L83.8,459.6 Z" fill="#ff00ff"/>
<line x1="53.5" y1="564.65" x2="283" y2="564.65" stroke="#dadada" stroke-width="0.9" stroke-dasharray="1.5,1.5"/>
<text x="50.3" y="571.22" font-size="10" fill="#222" stroke="#222" text-anchor="end" textLength="16.6" lengthAdjust="spacingAndGlyphs" >100</text>
<line x1="53.5" y1="548.3" x2="283" y2="548.3" stroke="#dadada" stroke-width="0.9" stroke-dasharray="1.5,1.5"/>
<text x="50.3" y="554.5" font-size="10" fill="#222" stroke="#222" text-anchor="end" textLength="16.6" lengthAdjust="spacingAndGlyphs" >200</text>
<line x1="53.5" y1="531.95" x2="283" y2="531.95" stroke="#dadada" stroke-width="0.9" stroke-dasharray="1.5,1.5"/>
<text x="50.3" y="537.7800000000001" font-size="10" fill="#222" stroke="#222" text-anchor="end" textLength="16.6" lengthAdjust="spacingAndGlyphs" >300</text>
<line x1="53.5" y1="515.6" x2="283" y2="515.6" stroke="#dadada" stroke-width="0.9" stroke-dasharray="1.5,1.5"/>
<text x="50.3" y="521.0600000000001" font-size="10" fill="#222" stroke="#222" text-anchor="end" textLength="16.6" lengthAdjust="spacingAndGlyphs" >400</text>
<line x1="53.5" y1="499.25" x2="283" y2="499.25" stroke="#dadada" stroke-width="0.9" stroke-dasharray="1.5,1.5"/>
<text x="50.3" y="504.34000000000003" font-size="10" fill="#222" stroke="#222" text-anchor="end" textLength="16.6" lengthAdjust="spacingAndGlyphs" >500</text>
<line x1="53.5" y1="482.9" x2="283" y2="482.9" stroke="#dadada" stroke-width="0.9" stroke-dasharray="1.5,1.5"/>
<text x="50.3" y="487.62" font-size="10" fill="#222" stroke="#222" text-anchor="end" textLength="16.6" lengthAdjust="spacingAndGlyphs" >600</text>
<line x1="53.5" y1="466.54999999999995" x2="283" y2="466.54999999999995" stroke="#dadada" stroke-width="0.9" stroke-dasharray="1.5,1.5"/>
<text x="50.3" y="470.90000000000003" font-size="10" fill="#222" stroke="#222" text-anchor="end" textLength="16.6" lengthAdjust="spacingAndGlyphs" >700</text>
<line x1="83.8" y1="457" x2="83.8" y2="586.7" stroke="#dadada" stroke-width="0.9" stroke-dasharray="1.5,1.5"/>
<line x1="109.6" y1="457" x2="109.6" y2="586.7" stroke="#dadada" stroke-width="0.9" stroke-dasharray="1.5,1.5"/>
<line x1="126" y1="457" x2="126" y2="586.7" stroke="#dadada" stroke-width="0.9" stroke-dasharray="1.5,1.5"/>
<line x1="146.6" y1="457" x2="146.6" y2="586.7" stroke="#dadada" stroke-width="0.9" stroke-dasharray="1.5,1.5"/>
<line x1="191.8" y1="457" x2="191.8" y2="586.7" stroke="#dadada" stroke-width="0.9" stroke-dasharray="1.5,1.5"/>
<line x1="251.3" y1="457" x2="251.3" y2="586.7" stroke="#dadada" stroke-width="0.9" stroke-dasharray="1.5,1.5"/>
<line x1="267.6" y1="457" x2="267.6" y2="586.7" stroke="#dadada" stroke-width="0.9" stroke-dasharray="1.5,1.5"/>
<line x1="53.3" y1="457.3" x2="53.3" y2="587.3" stroke="#555" stroke-width="1.2"/>
<line x1="52.7" y1="586.9" x2="283.2" y2="586.9" stroke="#555" stroke-width="1.2"/>
<line x1="80.5" y1="580.8" x2="87" y2="580.8" stroke="#808080" stroke-width="1.1"/>
<line x1="98" y1="580.6" x2="141" y2="580.6" stroke="#808080" stroke-width="1.1"/>
<path d="M132.6,567.5 L133.5,540 L134.4,512 L135,496.7 L135.8,467.5 L136.25,464.4 L136.7,467.5 L137.5,496.7 L138,520 L138.3,548.75 L139.2,571.7 Z" fill="#fac4c4" opacity="0.9"/>
<path d="M53.5,580.2 L78,580.3 L81.2,580.2 L82.2,574 L82.9,565 L83.3,561.5 L83.8,565 L84.6,574 L85.6,580.2 L89,580.4 L100,580.3 L104,579.8 L108,579 L111,578.2 L114.5,577.3 L118,575.5 L120.5,573.5 L122.7,572.5 L126,571.3 L130,570 L131.2,571 L132,569.5 L132.6,567.5 L133.5,540 L134.4,512 L135,496.7 L135.8,467.5 L136.25,464.4 L136.7,467.5 L137.5,496.7 L138,520 L138.3,548.75 L139.2,571.7 L140.8,579 L143,579.6 L150,579.4 L155,578.9 L160,579.3 L170,579.5 L180,579.5 L195,579.2 L203,578.9 L208,578.6 L213,579.2 L220,579.6 L240,579.9 L260,580 L283,580.1" fill="none" stroke="#f06464" stroke-width="0.95" stroke-linejoin="round"/>
<text x="120.8" y="461" font-size="10.8" fill="#222" stroke="#222" text-anchor="start" textLength="35" lengthAdjust="spacingAndGlyphs" >~890 nt</text>
<text x="74" y="558.6" font-size="9.6" fill="#222" stroke="#222" text-anchor="start" textLength="19" lengthAdjust="spacingAndGlyphs" >(LM)</text>
<text x="180.4" y="458.5" font-size="10.6" font-weight="bold" fill="#111" stroke="#111" text-anchor="start" textLength="39.2" lengthAdjust="spacingAndGlyphs" >Dot-blot</text>
<text x="221.5" y="458.5" font-size="10.6" fill="#222" stroke="#222" text-anchor="start" textLength="60.3" lengthAdjust="spacingAndGlyphs" >(3 repetitions)</text>
<rect x="196.6" y="470.3" width="86.4" height="59" fill="#fcfcfc" stroke="#bcbcbc" stroke-width="1.4"/>
<rect x="201.3" y="475" width="22.9" height="21.8" fill="#dfdfdf"/>
<rect x="229" y="475" width="49.2" height="22.7" fill="#dfdfdf"/>
<circle cx="212.8" cy="486.4" r="7.6" fill="#a6a6a6" stroke="#8a8a8a" stroke-width="1.6"/>
<circle cx="240.4" cy="486.4" r="6.8" fill="#a6a6a6" stroke="#8a8a8a" stroke-width="1.6"/>
<circle cx="266.8" cy="486.4" r="7.2" fill="#a6a6a6" stroke="#8a8a8a" stroke-width="1.6"/>
<text x="212.7" y="509.5" font-size="10.8" fill="#222" stroke="#222" text-anchor="middle" >7.15</text>
<text x="240" y="509.5" font-size="10.8" fill="#222" stroke="#222" text-anchor="middle" >5.78</text>
<text x="268" y="509.5" font-size="10.8" fill="#222" stroke="#222" text-anchor="middle" >6.46</text>
<text x="238.5" y="525" font-size="10.8" fill="#222" stroke="#222" text-anchor="middle" >dsRNA (ng)</text>
<text x="0" y="0" font-size="9.6" fill="#222" stroke="#222" text-anchor="end" transform="translate(87.9,589) rotate(-90)">(LM)</text>
<text x="0" y="0" font-size="9.6" fill="#222" stroke="#222" text-anchor="end" transform="translate(113.9,589) rotate(-90)">200</text>
<text x="0" y="0" font-size="9.6" fill="#222" stroke="#222" text-anchor="end" transform="translate(129.4,589) rotate(-90)">500</text>
<text x="0" y="0" font-size="9.6" fill="#222" stroke="#222" text-anchor="end" transform="translate(150.4,589) rotate(-90)">1000</text>
<text x="0" y="0" font-size="9.6" fill="#222" stroke="#222" text-anchor="end" transform="translate(195.20000000000002,589) rotate(-90)">2000</text>
<text x="0" y="0" font-size="9.6" fill="#222" stroke="#222" text-anchor="end" transform="translate(254.0,589) rotate(-90)">4000</text>
<text x="0" y="0" font-size="9.6" fill="#222" stroke="#222" text-anchor="end" transform="translate(271.0,589) rotate(-90)">6000</text>
<text x="23.5" y="606.8" font-size="10.8" fill="#222" stroke="#222" text-anchor="start" textLength="39.6" lengthAdjust="spacingAndGlyphs" >Size (nt)</text>
<text x="0" y="0" font-size="10.8" fill="#222" stroke="#222" text-anchor="middle" transform="translate(24.3,515) rotate(-90)">Intensity (mV)</text>
<text x="305" y="432" font-size="14" font-weight="bold" fill="#111" stroke="#111" text-anchor="start" >e</text>
<rect x="324.9" y="417.1" width="193.7" height="46.1" fill="#fff" stroke="#c8c8c8" stroke-width="1"/>
<text x="334.3" y="432" font-size="10.4" fill="#222" stroke="#222" text-anchor="start" textLength="131.2" lengthAdjust="spacingAndGlyphs" >Size distribution by intensity:</text>
<text x="334.3" y="444.5" font-size="10.4" fill="#222" stroke="#222" text-anchor="start" textLength="169.6" lengthAdjust="spacingAndGlyphs" >85.84 nm ± 0.78;&#160; PDI = 0.11 ± 0.02;</text>
<text x="334.5" y="457" font-size="10.4" fill="#222" stroke="#222" text-anchor="start" >EE = 88.35%</text>
<text x="492.6" y="476.2" font-size="10.8" font-weight="bold" fill="#111" stroke="#111" text-anchor="start" textLength="21.2" lengthAdjust="spacingAndGlyphs" >DLS</text>
<line x1="328.8" y1="560.1" x2="518" y2="560.1" stroke="#dcdcdc" stroke-width="1"/>
<line x1="328.8" y1="533.5" x2="518" y2="533.5" stroke="#dcdcdc" stroke-width="1"/>
<line x1="328.8" y1="505.8" x2="518" y2="505.8" stroke="#dcdcdc" stroke-width="1"/>
<line x1="328.8" y1="478.4" x2="518" y2="478.4" stroke="#dcdcdc" stroke-width="1"/>
<line x1="366.4" y1="478" x2="366.4" y2="587.0" stroke="#dcdcdc" stroke-width="1"/>
<line x1="404.7" y1="478" x2="404.7" y2="587.0" stroke="#dcdcdc" stroke-width="1"/>
<line x1="443.0" y1="478" x2="443.0" y2="587.0" stroke="#dcdcdc" stroke-width="1"/>
<line x1="481.3" y1="478" x2="481.3" y2="587.0" stroke="#dcdcdc" stroke-width="1"/>
<line x1="518.0" y1="478" x2="518.0" y2="587.0" stroke="#dcdcdc" stroke-width="1"/>
<line x1="328.8" y1="477.5" x2="328.8" y2="587.5" stroke="#555" stroke-width="1.2"/>
<line x1="328.8" y1="587.0" x2="518" y2="587.0" stroke="#555" stroke-width="1.2"/>
<line x1="325.5" y1="587.0" x2="328.8" y2="587.0" stroke="#555" stroke-width="1"/>
<line x1="325.5" y1="560.1" x2="328.8" y2="560.1" stroke="#555" stroke-width="1"/>
<line x1="325.5" y1="533.5" x2="328.8" y2="533.5" stroke="#555" stroke-width="1"/>
<line x1="325.5" y1="505.8" x2="328.8" y2="505.8" stroke="#555" stroke-width="1"/>
<line x1="325.5" y1="478.4" x2="328.8" y2="478.4" stroke="#555" stroke-width="1"/>
<text x="324.5" y="593.6" font-size="11" fill="#444" stroke="#444" text-anchor="end" >0</text>
<text x="324.5" y="564.1" font-size="11" fill="#444" stroke="#444" text-anchor="end" >5</text>
<text x="324.5" y="537.5" font-size="11" fill="#444" stroke="#444" text-anchor="end" >10</text>
<text x="324.5" y="509.8" font-size="11" fill="#444" stroke="#444" text-anchor="end" >15</text>
<text x="324.5" y="482.4" font-size="11" fill="#444" stroke="#444" text-anchor="end" >20</text>
<text x="327.3" y="600" font-size="11" fill="#444" stroke="#444" text-anchor="start" >0.1</text>
<text x="367" y="600.6" font-size="11" fill="#444" stroke="#444" text-anchor="middle" >1</text>
<text x="405.5" y="600.6" font-size="11" fill="#444" stroke="#444" text-anchor="middle" >10</text>
<text x="443.5" y="600.6" font-size="11" fill="#444" stroke="#444" text-anchor="middle" >100</text>
<text x="468.5" y="600.6" font-size="11" fill="#444" stroke="#444">1×10<tspan font-size="7.5" dy="-4">3</tspan></text>
<text x="504" y="600.6" font-size="11" fill="#444" stroke="#444">1×10<tspan font-size="7.5" dy="-4">4</tspan></text>
<text x="395.3" y="611" font-size="10.5" fill="#333" stroke="#333" text-anchor="start" textLength="51" lengthAdjust="spacingAndGlyphs" >Size (d.nm)</text>
<text x="0" y="0" font-size="11" fill="#333" stroke="#333" text-anchor="middle" transform="translate(305.8,531.5) rotate(-90)">Intensity (%)</text>
<line x1="338.4" y1="490.5" x2="349.3" y2="490.5" stroke="#1ea8e8" stroke-width="2"/>
<line x1="338.4" y1="500.7" x2="349.3" y2="500.7" stroke="#22b34a" stroke-width="2"/>
<line x1="338.4" y1="510.9" x2="349.3" y2="510.9" stroke="#f070a8" stroke-width="2"/>
<line x1="338.4" y1="521.1" x2="349.3" y2="521.1" stroke="#f7941e" stroke-width="2"/>
<line x1="338.4" y1="531.3" x2="349.3" y2="531.3" stroke="#f01818" stroke-width="2"/>
<text x="357.7" y="496.8" font-size="11" fill="#222" stroke="#222" text-anchor="start" >5 repetitions</text>
<line x1="328.8" y1="586.8" x2="346.2" y2="586.8" stroke="#444" stroke-width="1.2"/>
<line x1="346.2" y1="586.8" x2="518" y2="586.8" stroke="#f070a8" stroke-width="1.4"/>
<polyline points="424.06,587.00 424.64,585.77 425.21,584.36 425.79,582.78 426.36,581.00 426.93,579.02 427.51,576.83 428.08,574.43 428.66,571.81 429.23,568.98 429.81,565.94 430.38,562.71 430.96,559.30 431.53,555.77 432.10,552.10 432.68,548.34 433.25,544.50 433.83,540.64 434.40,536.79 434.98,532.98 435.55,529.15 436.13,525.49 436.70,522.04 437.28,518.85 437.85,515.98 438.42,513.47 439.00,511.36 439.57,509.67 440.15,508.45 440.72,507.71 441.30,507.46 441.87,507.71 442.45,508.45 443.02,509.67 443.59,511.36 444.17,513.47 444.74,515.98 445.32,518.85 445.89,522.04 446.47,525.49 447.04,529.15 447.62,532.98 448.19,536.79 448.77,540.64 449.34,544.50 449.91,548.34 450.49,552.10 451.06,555.77 451.64,559.30 452.21,562.71 452.79,565.94 453.36,568.98 453.94,571.81 454.51,574.43 455.08,576.83 455.66,579.02 456.23,581.00 456.81,582.78 457.38,584.36 457.96,585.77 458.53,587.00" fill="none" stroke="#1ea8e8" stroke-width="1.5" stroke-linejoin="round"/>
<polyline points="424.99,587.00 425.55,585.76 426.11,584.35 426.67,582.75 427.23,580.96 427.79,578.97 428.35,576.76 428.91,574.34 429.47,571.71 430.03,568.86 430.59,565.80 431.15,562.54 431.71,559.12 432.27,555.56 432.83,551.87 433.39,548.07 433.95,544.21 434.51,540.33 435.07,536.45 435.63,532.60 436.19,528.75 436.75,525.06 437.31,521.58 437.87,518.38 438.43,515.49 438.99,512.96 439.55,510.83 440.11,509.13 440.67,507.90 441.23,507.16 441.79,506.91 442.35,507.16 442.91,507.90 443.47,509.13 444.03,510.83 444.59,512.96 445.16,515.49 445.72,518.38 446.28,521.58 446.84,525.06 447.40,528.75 447.96,532.60 448.52,536.45 449.08,540.33 449.64,544.21 450.20,548.07 450.76,551.87 451.32,555.56 451.88,559.12 452.44,562.54 453.00,565.80 453.56,568.86 454.12,571.71 454.68,574.34 455.24,576.76 455.80,578.97 456.36,580.96 456.92,582.75 457.48,584.35 458.04,585.76 458.60,587.00" fill="none" stroke="#22b34a" stroke-width="1.3" stroke-linejoin="round"/>
<polyline points="425.39,587.00 425.95,585.62 426.51,584.04 427.07,582.26 427.63,580.27 428.19,578.04 428.75,575.59 429.31,572.89 429.87,569.95 430.43,566.77 430.99,563.36 431.55,559.74 432.11,555.95 432.67,551.98 433.23,547.87 433.79,543.64 434.35,539.33 434.91,535.00 435.47,530.56 436.03,526.14 436.59,521.84 437.15,517.72 437.71,513.85 438.27,510.28 438.83,507.05 439.39,504.25 439.95,501.90 440.51,500.04 441.07,498.68 441.63,497.86 442.19,497.58 442.75,497.86 443.31,498.68 443.87,500.04 444.43,501.90 444.99,504.25 445.55,507.05 446.11,510.28 446.67,513.85 447.23,517.72 447.79,521.84 448.35,526.14 448.91,530.56 449.47,535.00 450.03,539.33 450.59,543.64 451.15,547.87 451.71,551.98 452.27,555.95 452.83,559.74 453.39,563.36 453.95,566.77 454.51,569.95 455.07,572.89 455.63,575.59 456.19,578.04 456.75,580.27 457.32,582.26 457.88,584.04 458.44,585.62 459.00,587.00" fill="none" stroke="#f7941e" stroke-width="1.3" stroke-linejoin="round"/>
<polyline points="426.11,587.00 426.66,585.63 427.21,584.08 427.75,582.32 428.30,580.35 428.84,578.15 429.39,575.73 429.93,573.06 430.48,570.16 431.03,567.02 431.57,563.65 432.12,560.06 432.66,556.32 433.21,552.40 433.76,548.34 434.30,544.16 434.85,539.91 435.39,535.63 435.94,531.27 436.48,526.90 437.03,522.65 437.58,518.59 438.12,514.76 438.67,511.23 439.21,508.05 439.76,505.27 440.30,502.95 440.85,501.10 441.40,499.76 441.94,498.95 442.49,498.68 443.03,498.95 443.58,499.76 444.13,501.10 444.67,502.95 445.22,505.27 445.76,508.05 446.31,511.23 446.85,514.76 447.40,518.59 447.95,522.65 448.49,526.90 449.04,531.27 449.58,535.63 450.13,539.91 450.67,544.16 451.22,548.34 451.77,552.40 452.31,556.32 452.86,560.06 453.40,563.65 453.95,567.02 454.49,570.16 455.04,573.06 455.59,575.73 456.13,578.15 456.68,580.35 457.22,582.32 457.77,584.08 458.32,585.63 458.86,587.00" fill="none" stroke="#f01818" stroke-width="1.3" stroke-linejoin="round"/>
<polyline points="426.41,587.00 426.96,585.65 427.50,584.11 428.05,582.38 428.59,580.43 429.14,578.26 429.68,575.86 430.23,573.23 430.78,570.36 431.32,567.26 431.87,563.94 432.41,560.39 432.96,556.69 433.51,552.82 434.05,548.81 434.60,544.68 435.14,540.48 435.69,536.25 436.23,531.98 436.78,527.66 437.33,523.46 437.87,519.45 438.42,515.67 438.96,512.18 439.51,509.04 440.05,506.29 440.60,503.99 441.15,502.17 441.69,500.84 442.24,500.04 442.78,499.77 443.33,500.04 443.88,500.84 444.42,502.17 444.97,503.99 445.51,506.29 446.06,509.04 446.60,512.18 447.15,515.67 447.70,519.45 448.24,523.46 448.79,527.66 449.33,531.98 449.88,536.25 450.42,540.48 450.97,544.68 451.52,548.81 452.06,552.82 452.61,556.69 453.15,560.39 453.70,563.94 454.24,567.26 454.79,570.36 455.34,573.23 455.88,575.86 456.43,578.26 456.97,580.43 457.52,582.38 458.07,584.11 458.61,585.65 459.16,587.00" fill="none" stroke="#f070a8" stroke-width="1.4" stroke-linejoin="round"/>
</svg>
</body></html>
